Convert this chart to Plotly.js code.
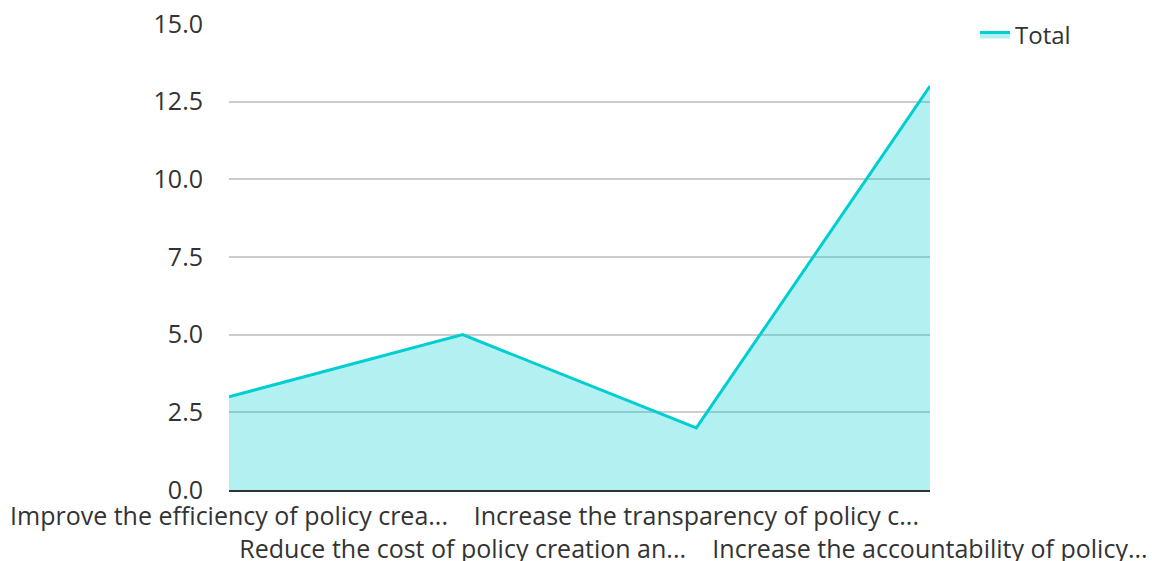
<!DOCTYPE html>
<html><head><meta charset="utf-8">
<script src="https://cdn.plot.ly/plotly-3.0.1.min.js"></script>
<style>html,body{margin:0;padding:0;background:#fff}#chart{width:1152px;height:561px}</style>
</head><body><div id="chart"></div>
<script>
const categories = [
  "Improve the efficiency of policy crea...",
  "Reduce the cost of policy creation an...",
  "Increase the transparency of policy c...",
  "Increase the accountability of policy..."
];
const totalValues = [3, 5, 2, 13];
const yTickVals = [0, 2.5, 5, 7.5, 10, 12.5, 15];
const yTickText = ["0.0", "2.5", "5.0", "7.5", "10.0", "12.5", "15.0"];

const xIdx = categories.map((c, i) => i);
const xText = categories.map((c, i) => (i % 2 === 1 ? "<br>" + c : c));

const trace = {
  type: "scatter",
  mode: "lines",
  name: "Total",
  x: xIdx,
  y: totalValues,
  fill: "tozeroy",
  fillcolor: "rgba(0,206,209,0.3)",
  line: {color: "#00CED1", width: 3}
};

const layout = {
  width: 1152, height: 561,
  margin: {l: 229, r: 222, t: 24, b: 71},
  paper_bgcolor: "#fff", plot_bgcolor: "#fff",
  font: {family: "Open Sans, Noto Sans, sans-serif", size: 25, color: "#333"},
  showlegend: true,
  legend: {xref: "container", yref: "container", x: 0.8464, y: 0.9777,
           xanchor: "left", yanchor: "top", font: {size: 24, color: "#333"}},
  xaxis: {
    range: [0, 3], tickmode: "array", tickvals: xIdx, ticktext: xText,
    showgrid: false, zeroline: false, showline: true, linecolor: "#333", linewidth: 2,
    ticks: "", tickangle: 0, automargin: false, ticklabelstandoff: 3
  },
  yaxis: {
    range: [0, 15], tickmode: "array", tickvals: yTickVals, ticktext: yTickText,
    showgrid: true, gridcolor: "#cccccc", gridwidth: 2, zeroline: false, showline: false,
    ticks: "", ticklen: 0, automargin: false, ticklabelstandoff: 25
  }
};
Plotly.newPlot("chart", [trace], layout, {displayModeBar: false, staticPlot: true});
</script></body></html>
